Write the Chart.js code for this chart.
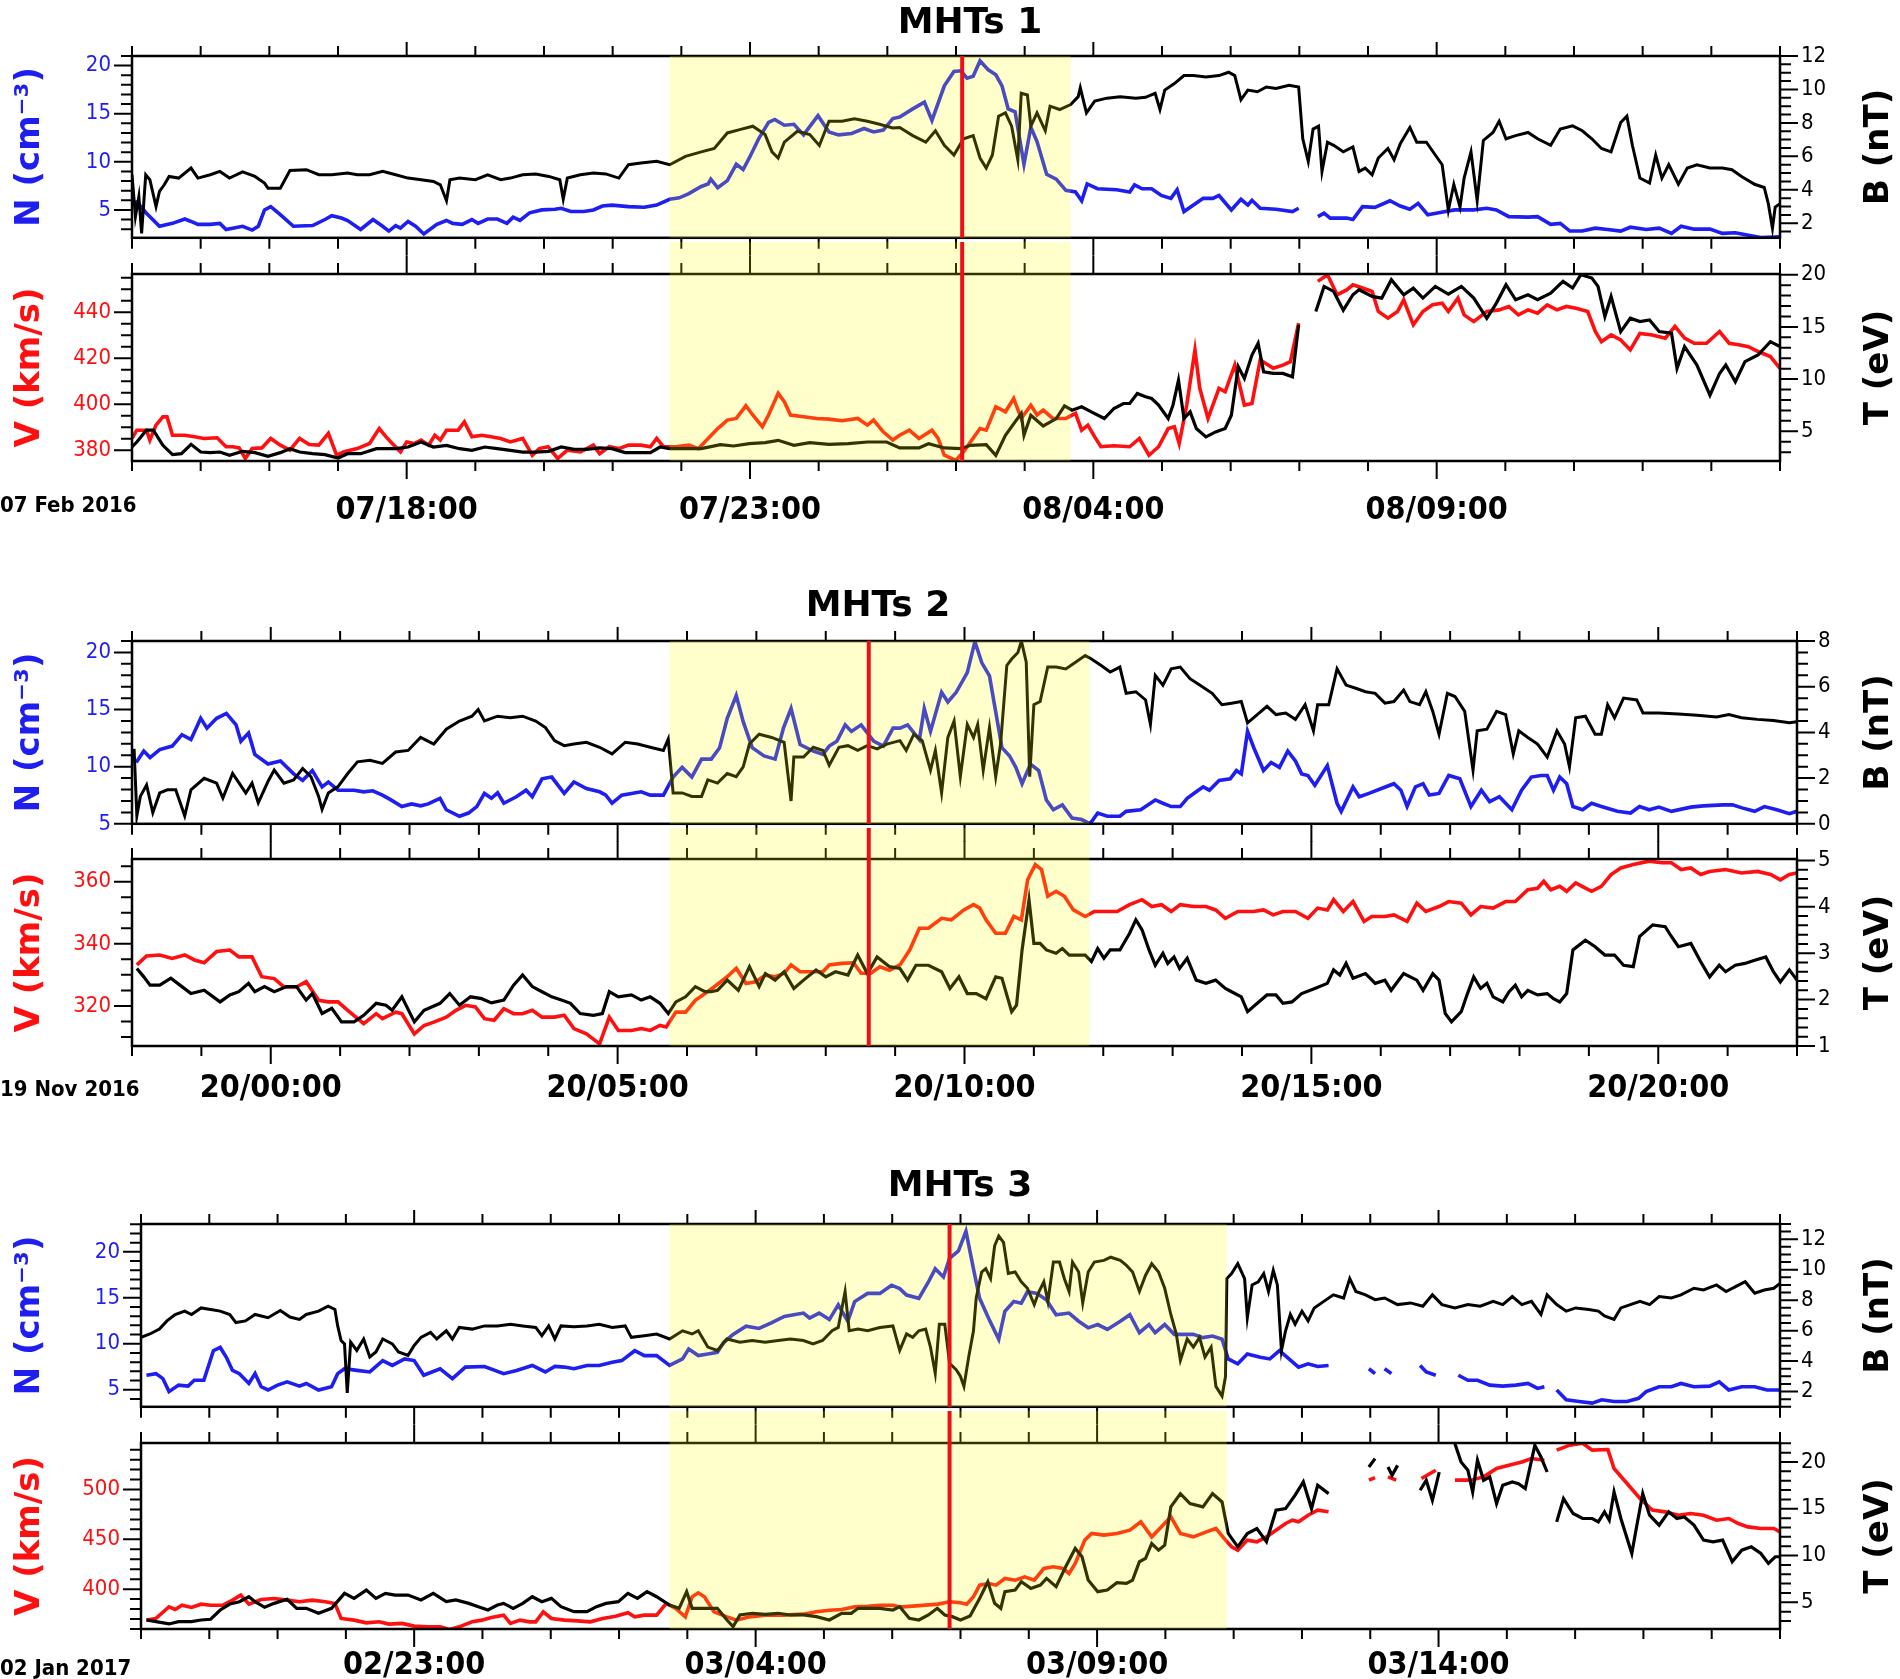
<!DOCTYPE html>
<html>
<head>
<meta charset="utf-8">
<script src="https://cdn.jsdelivr.net/npm/chart.js@4.4.0/dist/chart.umd.min.js"></script>
<style>
  body { margin: 0; background: #fff; width: 1900px; height: 1679px; position: relative; overflow: hidden; }
  canvas { position: absolute; left: 0; }
</style>
</head>
<body>
<canvas id="p1a"></canvas>
<canvas id="p1b"></canvas>
<canvas id="p2a"></canvas>
<canvas id="p2b"></canvas>
<canvas id="p3a"></canvas>
<canvas id="p3b"></canvas>
<script>
// ---- data: time in hours from the left edge of each panel, value ----

// MHTs 1 (07 Feb 2016 14:00 -> 08 Feb 14:00)
const p1N = [[0,5.68],[0.07,5.85],[0.21,4.66],[0.4,3.3],[0.59,3.6],[0.77,4.05],[0.86,3.8],[0.96,3.5],[1.14,3.5],[1.28,3.6],[1.37,2.97],[1.61,3.3],[1.75,2.9],[1.84,3.3],[1.93,5.0],[2.02,5.34],[2.16,4.5],[2.35,3.3],[2.63,3.37],[2.81,4.0],[2.91,4.4],[3.05,4.15],[3.14,3.9],[3.33,2.97],[3.51,4.0],[3.65,3.3],[3.74,2.8],[3.84,3.37],[3.91,3.1],[4.02,3.8],[4.13,3.3],[4.25,2.5],[4.44,3.5],[4.58,3.9],[4.67,3.6],[4.81,3.5],[4.95,4.0],[5.04,3.6],[5.18,4.05],[5.32,4.05],[5.46,3.6],[5.55,4.25],[5.65,3.9],[5.79,4.7],[5.97,5.0],[6.16,5.07],[6.25,5.17],[6.39,4.83],[6.58,4.83],[6.72,5.0],[6.85,5.4],[6.99,5.5],[7.23,5.34],[7.46,5.27],[7.64,5.5],[7.83,6.1],[7.97,6.25],[8.11,6.7],[8.29,7.44],[8.39,7.7],[8.43,8.2],[8.53,7.3],[8.67,8.05],[8.8,9.74],[8.9,9.2],[8.99,10.4],[9.13,12.45],[9.27,14.1],[9.36,14.4],[9.5,13.8],[9.64,13.9],[9.78,12.8],[9.99,14.8],[10.15,13.1],[10.29,12.8],[10.48,12.95],[10.66,13.46],[10.8,13.1],[10.94,13.3],[11.08,14.5],[11.18,14.65],[11.37,15.5],[11.54,16.2],[11.65,14.3],[11.83,17.9],[11.97,19.4],[12.07,19.46],[12.16,18.7],[12.25,18.9],[12.35,20.5],[12.47,19.56],[12.58,19.05],[12.67,17.9],[12.76,15.5],[12.86,15.2],[12.99,9.74],[13.09,13.6],[13.18,12.1],[13.32,8.7],[13.46,8.2],[13.6,7.03],[13.74,6.86],[13.83,5.95],[13.91,7.7],[14.06,7.2],[14.34,7.1],[14.53,6.86],[14.6,7.6],[14.71,7.2],[14.85,7.2],[14.99,6.5],[15.13,6.2],[15.22,7.1],[15.32,4.83],[15.6,6.2],[15.74,6.2],[15.83,6.5],[16.01,5.0],[16.15,6.1],[16.25,5.5],[16.31,6.0],[16.43,5.17],[16.66,5.07],[16.9,4.83],[16.99,5.17],[17.1,null],[17.27,4.3],[17.36,4.66],[17.45,4.15],[17.69,4.15],[17.78,4.0],[17.92,5.34],[18.1,5.27],[18.32,5.95],[18.47,5.4],[18.61,5.07],[18.73,5.68],[18.87,4.5],[19.03,4.7],[19.26,5.0],[19.54,5.0],[19.73,5.17],[19.87,5.0],[20.05,4.3],[20.33,4.25],[20.47,4.3],[20.66,3.5],[20.8,3.6],[20.94,2.8],[21.12,2.8],[21.31,3.1],[21.49,2.97],[21.68,2.8],[21.82,3.2],[22.05,2.97],[22.24,3.1],[22.42,2.56],[22.56,3.3],[22.75,3.0],[22.98,3.0],[23.16,2.56],[23.35,2.63],[23.54,2.36],[23.72,2.12],[24,2.2]];
const p1B = [[0,4.9],[0.05,2.4],[0.1,3.6],[0.14,1.4],[0.2,4.9],[0.26,4.6],[0.35,3.0],[0.4,3.9],[0.47,4.3],[0.54,4.8],[0.68,4.7],[0.86,5.3],[0.96,4.7],[1.14,4.9],[1.28,5.1],[1.42,4.7],[1.61,5.07],[1.79,4.8],[1.93,4.4],[1.98,4.1],[2.16,4.1],[2.3,5.15],[2.54,5.2],[2.72,4.9],[2.91,4.9],[3.14,5.0],[3.28,4.9],[3.46,4.9],[3.65,5.1],[3.84,4.9],[4.02,4.7],[4.21,4.6],[4.39,4.5],[4.49,4.3],[4.58,3.35],[4.63,4.6],[4.77,4.7],[5.0,4.6],[5.18,4.9],[5.37,4.6],[5.51,4.7],[5.69,4.9],[5.88,4.95],[6.07,4.8],[6.23,4.6],[6.28,3.45],[6.34,4.7],[6.53,4.9],[6.72,5.0],[6.9,4.95],[7.09,4.7],[7.23,5.5],[7.41,5.6],[7.64,5.7],[7.83,5.5],[8.06,6.0],[8.29,6.27],[8.48,6.47],[8.67,7.4],[8.85,7.6],[9.04,7.8],[9.22,7.3],[9.32,6.27],[9.41,5.9],[9.5,6.85],[9.69,7.5],[9.87,7.3],[10.01,6.65],[10.15,8.1],[10.34,8.1],[10.52,8.25],[10.71,8.1],[10.9,7.9],[11.08,7.7],[11.18,7.73],[11.37,7.24],[11.56,6.85],[11.7,7.53],[11.83,6.66],[11.97,6.08],[12.11,7.05],[12.25,7.24],[12.35,5.9],[12.44,5.3],[12.53,6.08],[12.62,8.4],[12.72,8.6],[12.81,7.8],[12.9,5.8],[12.95,9.77],[13.04,9.67],[13.09,7.8],[13.18,8.6],[13.3,7.53],[13.37,9.0],[13.51,8.8],[13.67,9.1],[13.78,9.57],[13.81,10.1],[13.9,8.6],[14.02,9.3],[14.2,9.48],[14.39,9.57],[14.62,9.48],[14.76,9.53],[14.9,9.77],[14.97,8.8],[15.04,9.96],[15.18,10.35],[15.32,10.83],[15.46,10.83],[15.64,10.74],[15.83,10.83],[15.97,11.03],[16.06,10.83],[16.15,9.38],[16.25,9.96],[16.39,9.86],[16.52,10.15],[16.66,10.06],[16.85,10.25],[16.99,10.15],[17.05,7.05],[17.13,5.7],[17.2,7.63],[17.28,7.8],[17.33,5.1],[17.41,6.85],[17.5,6.66],[17.64,6.27],[17.78,6.56],[17.87,5.1],[17.96,5.3],[18.06,4.9],[18.15,5.9],[18.29,6.47],[18.38,5.8],[18.47,6.76],[18.61,7.73],[18.71,6.85],[18.85,6.85],[18.98,6.08],[19.08,5.5],[19.17,2.78],[19.25,4.33],[19.34,2.97],[19.4,4.7],[19.5,6.27],[19.59,3.36],[19.68,6.95],[19.82,7.43],[19.91,8.1],[20.01,7.05],[20.15,7.24],[20.33,7.43],[20.47,7.05],[20.66,6.66],[20.8,7.63],[20.98,7.82],[21.12,7.53],[21.26,7.05],[21.4,6.47],[21.54,6.27],[21.68,8.02],[21.77,8.4],[21.85,6.66],[21.96,4.7],[22.1,4.4],[22.19,6.08],[22.28,4.7],[22.38,5.5],[22.52,4.33],[22.65,5.3],[22.79,5.5],[22.98,5.3],[23.16,5.3],[23.3,5.2],[23.44,4.8],[23.63,4.33],[23.77,4.14],[23.83,3.17],[23.89,1.7],[23.93,2.97],[24,3.17]];
const p1V = [[0,385.1],[0.07,388.7],[0.21,388.7],[0.26,384.4],[0.35,390.9],[0.45,394.5],[0.51,394.5],[0.59,386.5],[0.77,386.5],[0.91,385.8],[1.05,385.1],[1.24,385.4],[1.37,381.5],[1.47,381.5],[1.56,381],[1.65,376.4],[1.75,380.7],[1.89,381],[2.02,385.1],[2.16,382.2],[2.3,380],[2.44,385.1],[2.58,382.5],[2.72,382.2],[2.86,387.3],[2.98,377.8],[3.09,379.3],[3.28,380.7],[3.46,382.9],[3.6,389.4],[3.7,385.8],[3.79,382.9],[3.91,379.3],[4.0,383.6],[4.11,382.9],[4.21,384.4],[4.32,382.2],[4.41,386.5],[4.49,384.4],[4.58,388.7],[4.75,388.7],[4.84,392.3],[4.95,385.8],[5.09,386.5],[5.23,385.8],[5.37,385.1],[5.51,383.6],[5.69,385.1],[5.83,377.8],[5.93,380.7],[6.06,381.5],[6.2,376.4],[6.34,380],[6.53,379.3],[6.72,382.2],[6.81,378.5],[6.95,381.5],[7.09,380.7],[7.23,382.2],[7.41,382.2],[7.55,381.5],[7.64,385.1],[7.74,381.5],[7.92,381.5],[8.11,382.2],[8.25,380.7],[8.39,385.1],[8.53,389.4],[8.67,393.1],[8.8,393.8],[8.94,399.3],[9.04,395.3],[9.18,390.2],[9.27,395.3],[9.41,404.7],[9.5,401.1],[9.59,395.3],[9.78,394.5],[9.97,393.8],[10.15,393.5],[10.34,392.8],[10.57,393.8],[10.71,390.9],[10.8,393.1],[10.94,388],[11.08,384.4],[11.18,386.5],[11.32,388.7],[11.46,385.1],[11.65,388.7],[11.74,385.1],[11.83,377.8],[12.0,375.6],[12.11,379.3],[12.21,383.6],[12.35,389.4],[12.44,388.7],[12.58,398.9],[12.72,396.7],[12.84,402.5],[12.95,393.8],[13.09,399.6],[13.18,395.3],[13.27,397.4],[13.41,393.8],[13.6,393.8],[13.74,396],[13.83,388.7],[13.92,390.9],[14.02,385.8],[14.11,381.5],[14.3,381.9],[14.53,381.5],[14.67,385.1],[14.81,377.8],[14.95,381.5],[15.09,389.4],[15.18,390.2],[15.25,382.9],[15.36,399.6],[15.48,423.6],[15.55,406.9],[15.67,393.8],[15.83,406.9],[15.92,405.4],[16.06,417],[16.2,399.6],[16.31,400.3],[16.43,419.2],[16.62,415.6],[16.76,417],[16.87,418.5],[16.99,435.2],[17.1,null],[17.27,453.4],[17.41,456.3],[17.55,447.6],[17.69,449.7],[17.78,451.9],[17.92,450.5],[18.06,449],[18.15,440.3],[18.29,437.4],[18.43,440.3],[18.52,445.4],[18.66,434.5],[18.8,440.3],[18.94,443.2],[19.08,443.9],[19.17,440.3],[19.31,446.1],[19.4,438.8],[19.54,435.9],[19.73,440.3],[19.91,441],[20.05,442.5],[20.19,438.8],[20.33,441],[20.47,439.6],[20.61,443.2],[20.75,441],[20.89,442.5],[21.03,441.7],[21.2,440.3],[21.31,431.6],[21.4,427.2],[21.54,430.1],[21.68,427.9],[21.82,423.6],[21.96,430.8],[22.14,430.1],[22.33,428.7],[22.47,433.8],[22.61,428.7],[22.75,426.5],[22.93,426.5],[23.12,431.6],[23.26,426.5],[23.4,425.8],[23.54,425],[23.68,422.9],[23.86,420.7],[24,415.6]];
const p1T = [[0,3.49],[0.07,3.97],[0.21,5.1],[0.31,5.1],[0.45,3.65],[0.59,2.76],[0.72,2.85],[0.86,3.75],[1.0,3.01],[1.14,2.95],[1.28,3.01],[1.42,2.69],[1.61,3.08],[1.79,2.95],[1.98,2.6],[2.16,2.95],[2.3,3.33],[2.44,3.01],[2.63,2.85],[2.81,2.76],[3.0,2.44],[3.14,2.85],[3.33,2.85],[3.56,3.33],[3.84,3.33],[4.02,3.49],[4.21,3.97],[4.39,3.49],[4.58,3.65],[4.77,3.33],[4.95,3.17],[5.14,3.49],[5.32,3.33],[5.51,3.17],[5.69,3.01],[5.88,3.01],[6.07,3.08],[6.25,3.49],[6.44,3.27],[6.62,3.27],[6.81,3.4],[6.99,3.33],[7.18,2.95],[7.37,2.95],[7.55,2.95],[7.69,3.49],[7.83,3.33],[8.02,3.33],[8.29,3.33],[8.57,3.72],[8.76,3.59],[8.99,3.81],[9.22,3.91],[9.41,4.13],[9.64,3.65],[9.87,3.91],[10.15,3.75],[10.43,3.81],[10.71,3.97],[10.99,3.97],[11.18,3.4],[11.46,3.4],[11.6,3.81],[11.83,3.4],[12.07,3.33],[12.21,3.65],[12.44,3.72],[12.58,2.69],[12.72,4.62],[12.86,5.9],[12.95,6.7],[12.99,4.62],[13.09,6.54],[13.27,5.51],[13.46,6.22],[13.58,7.44],[13.69,7.02],[13.83,7.34],[13.97,6.86],[14.16,6.22],[14.3,7.18],[14.44,7.66],[14.53,7.66],[14.64,8.62],[14.76,8.3],[14.85,8.14],[14.95,7.5],[15.09,6.22],[15.16,7.5],[15.24,9.9],[15.32,6.22],[15.41,6.86],[15.5,5.26],[15.64,4.46],[15.78,4.94],[15.92,5.26],[16.01,6.54],[16.11,11.19],[16.2,10.06],[16.31,12.3],[16.4,13.43],[16.48,10.7],[16.62,10.54],[16.76,10.54],[16.9,10.22],[16.99,15.19],[17.1,null],[17.24,16.47],[17.36,18.88],[17.5,18.4],[17.64,16.6],[17.78,18.08],[17.87,18.56],[18.06,17.92],[18.2,17.76],[18.34,19.52],[18.52,18.08],[18.66,18.72],[18.8,17.76],[18.98,18.88],[19.17,18.14],[19.36,18.88],[19.54,17.76],[19.73,15.83],[19.87,17.28],[20.01,19.04],[20.15,17.6],[20.33,18.08],[20.47,17.6],[20.66,18.24],[20.84,19.36],[20.98,18.72],[21.1,20.0],[21.26,19.68],[21.35,18.88],[21.45,15.99],[21.54,17.92],[21.68,14.55],[21.82,15.83],[21.96,15.51],[22.1,15.67],[22.24,14.55],[22.42,14.39],[22.5,11.03],[22.61,13.11],[22.79,11.35],[22.98,8.46],[23.12,10.54],[23.21,11.35],[23.35,9.74],[23.49,11.67],[23.68,12.31],[23.86,13.59],[24,13.11]];

// MHTs 2 (19 Nov 2016 22:00 -> 20 Nov 22:00)
const p2N = [[0.06,10.37],[0.17,11.37],[0.26,10.8],[0.4,11.5],[0.58,11.8],[0.72,12.8],[0.85,12.37],[0.99,14.23],[1.08,13.37],[1.22,14.23],[1.36,14.66],[1.5,13.66],[1.57,12.23],[1.68,12.94],[1.77,11.08],[1.96,10.23],[2.14,10.5],[2.33,9.37],[2.46,8.8],[2.6,9.66],[2.74,8.23],[2.83,8.66],[2.97,7.94],[3.2,7.94],[3.34,7.8],[3.47,7.89],[3.61,7.51],[3.72,7.14],[3.89,6.51],[4.03,6.74],[4.16,6.57],[4.27,6.74],[4.44,7.23],[4.53,6.23],[4.72,5.66],[4.85,5.94],[4.97,6.51],[5.08,7.66],[5.18,7.23],[5.27,7.71],[5.36,6.8],[5.54,7.37],[5.68,7.94],[5.77,7.37],[5.91,8.94],[6.05,9.09],[6.23,7.66],[6.37,8.66],[6.55,8.09],[6.74,7.8],[6.83,7.51],[6.92,6.8],[7.06,7.51],[7.2,7.66],[7.34,7.8],[7.47,7.51],[7.66,7.51],[7.8,9.09],[7.93,9.94],[8.07,9.09],[8.21,10.66],[8.35,10.66],[8.47,11.66],[8.58,14.23],[8.71,16.23],[8.81,13.94],[8.94,11.66],[9.11,10.94],[9.27,10.66],[9.39,13.37],[9.5,15.09],[9.63,11.94],[9.82,11.37],[9.96,11.08],[10.05,11.8],[10.16,12.23],[10.28,13.66],[10.37,13.09],[10.51,13.66],[10.69,12.23],[10.83,11.8],[10.97,13.37],[11.07,13.37],[11.18,13.66],[11.35,12.37],[11.42,15.09],[11.51,13.09],[11.67,16.51],[11.76,15.66],[11.88,16.51],[12.04,18.23],[12.15,20.94],[12.25,19.09],[12.36,17.94],[12.45,14.8],[12.54,11.66],[12.65,10.94],[12.74,9.94],[12.83,8.51],[12.95,10.23],[13.07,9.66],[13.18,7.09],[13.28,6.23],[13.41,6.66],[13.55,5.51],[13.69,5.37],[13.81,5.0],[13.92,5.94],[14.06,5.66],[14.24,5.66],[14.33,6.09],[14.54,6.23],[14.75,7.09],[14.86,6.8],[14.98,6.51],[15.11,6.51],[15.21,7.23],[15.34,7.8],[15.44,8.23],[15.53,7.94],[15.67,8.8],[15.83,8.94],[15.92,9.66],[15.99,9.37],[16.08,13.09],[16.17,11.66],[16.31,9.66],[16.42,10.37],[16.54,9.94],[16.66,11.37],[16.77,10.51],[16.86,9.37],[16.95,9.23],[17.05,8.37],[17.23,10.09],[17.37,6.8],[17.43,6.09],[17.6,8.23],[17.69,7.37],[17.83,7.66],[18.01,8.09],[18.19,8.51],[18.29,7.94],[18.38,6.51],[18.5,8.23],[18.61,8.51],[18.7,7.51],[18.84,7.66],[18.98,9.23],[19.14,8.94],[19.3,6.51],[19.45,7.94],[19.57,6.94],[19.71,7.37],[19.89,6.23],[20.03,7.94],[20.17,9.09],[20.31,9.23],[20.4,9.23],[20.49,7.94],[20.58,9.09],[20.68,8.51],[20.77,6.51],[20.91,6.23],[21.04,6.8],[21.18,6.51],[21.41,6.09],[21.6,5.94],[21.73,6.51],[21.87,6.23],[22.01,6.46],[22.19,6.09],[22.47,6.46],[22.65,6.57],[22.93,6.66],[23.07,6.66],[23.22,6.37],[23.39,6.09],[23.53,6.51],[23.71,6.23],[23.89,5.89],[24,6.09]];
const p2B = [[0.03,3.28],[0.07,0.35],[0.12,1.2],[0.21,1.7],[0.3,0.49],[0.4,1.35],[0.51,1.49],[0.63,1.49],[0.76,0.35],[0.85,1.49],[1.04,1.99],[1.22,1.78],[1.31,1.13],[1.45,2.2],[1.64,1.35],[1.73,1.78],[1.82,0.92],[1.96,1.85],[2.05,2.35],[2.19,1.78],[2.33,1.92],[2.46,2.42],[2.58,2.06],[2.69,1.2],[2.74,0.63],[2.83,1.35],[2.97,1.63],[3.11,2.2],[3.25,2.71],[3.43,2.78],[3.61,2.64],[3.8,3.14],[3.98,3.21],[4.16,3.78],[4.35,3.49],[4.53,4.14],[4.72,4.5],[4.9,4.71],[4.99,5.0],[5.08,4.5],[5.27,4.71],[5.45,4.64],[5.63,4.71],[5.82,4.5],[5.96,4.21],[6.09,3.64],[6.23,3.42],[6.37,3.49],[6.55,3.57],[6.74,3.35],[6.92,3.06],[7.11,3.57],[7.29,3.49],[7.47,3.35],[7.66,3.21],[7.73,3.71],[7.8,1.35],[7.93,1.35],[8.07,1.2],[8.21,1.2],[8.3,1.92],[8.44,1.78],[8.58,2.2],[8.71,2.06],[8.81,2.49],[8.9,3.49],[9.04,3.92],[9.22,3.78],[9.4,3.57],[9.5,1.0],[9.54,2.92],[9.68,2.92],[9.82,3.35],[9.96,3.21],[10.05,2.56],[10.19,3.35],[10.32,3.42],[10.46,3.21],[10.6,3.42],[10.74,3.28],[10.88,3.49],[11.07,3.64],[11.16,3.21],[11.27,3.92],[11.39,3.64],[11.51,2.35],[11.58,3.21],[11.67,1.35],[11.76,3.78],[11.85,4.5],[11.94,2.06],[12.04,4.35],[12.13,3.78],[12.19,4.35],[12.27,2.35],[12.36,4.21],[12.45,2.06],[12.52,3.49],[12.61,6.93],[12.68,7.21],[12.77,7.5],[12.82,8.0],[12.89,7.07],[12.94,2.06],[13.0,5.21],[13.09,5.35],[13.2,6.86],[13.32,6.86],[13.46,6.78],[13.6,7.07],[13.74,7.36],[13.83,7.21],[13.97,6.93],[14.1,6.64],[14.24,6.86],[14.33,5.71],[14.47,5.78],[14.61,5.42],[14.68,4.35],[14.75,6.5],[14.86,6.07],[14.98,6.78],[15.11,6.86],[15.25,6.35],[15.39,6.07],[15.57,5.71],[15.71,5.21],[15.85,5.28],[15.99,5.35],[16.08,4.42],[16.22,4.78],[16.36,5.14],[16.49,4.78],[16.63,4.85],[16.77,4.57],[16.91,5.21],[17.03,4.07],[17.09,5.21],[17.25,5.21],[17.37,6.78],[17.5,6.07],[17.64,5.93],[17.78,5.78],[17.92,5.71],[18.06,5.28],[18.19,5.35],[18.33,5.85],[18.42,5.35],[18.56,5.21],[18.65,5.78],[18.75,4.92],[18.84,3.92],[18.96,5.71],[19.07,5.57],[19.21,4.92],[19.33,2.35],[19.39,4.07],[19.53,4.14],[19.67,4.92],[19.8,4.78],[19.91,3.06],[19.99,4.07],[20.12,3.78],[20.26,3.49],[20.4,2.92],[20.54,4.07],[20.65,3.49],[20.72,2.49],[20.81,4.64],[20.95,4.71],[21.09,3.92],[21.18,3.92],[21.27,5.21],[21.37,4.64],[21.5,5.5],[21.69,5.42],[21.78,4.85],[22.01,4.85],[22.29,4.81],[22.56,4.75],[22.84,4.67],[23.02,4.78],[23.2,4.64],[23.43,4.57],[23.66,4.52],[23.89,4.42],[24,4.47]];
const p2V = [[0.07,333.2],[0.21,336.1],[0.4,336.4],[0.58,335.3],[0.76,336.4],[0.9,334.8],[1.04,333.9],[1.22,337.5],[1.41,338],[1.54,335.8],[1.73,335.8],[1.87,329.4],[2.05,328.8],[2.19,326.1],[2.37,326.1],[2.51,327.8],[2.69,321.8],[2.83,321.3],[2.97,321.3],[3.11,318.6],[3.34,314.3],[3.52,317.5],[3.61,315.9],[3.8,318],[3.89,317.5],[4.07,311],[4.21,313.7],[4.35,314.8],[4.53,316.4],[4.67,318.6],[4.81,320.2],[4.95,319.7],[5.08,315.9],[5.22,315.4],[5.36,319.1],[5.5,317.5],[5.63,317.5],[5.77,318.6],[5.91,316.4],[6.09,316.4],[6.23,317],[6.37,312.7],[6.55,311],[6.74,307.8],[6.88,316.4],[7.01,312.1],[7.2,312.1],[7.34,312.7],[7.47,312.1],[7.61,313.7],[7.7,313.2],[7.84,318],[7.98,318],[8.12,321.8],[8.26,324],[8.39,326.1],[8.58,329.4],[8.71,332.1],[8.85,327.2],[8.99,327.8],[9.13,329.9],[9.27,329.4],[9.4,330.5],[9.5,333.2],[9.63,331],[9.77,331],[9.96,331],[10.05,333.2],[10.23,333.7],[10.4,333.9],[10.51,330.5],[10.65,330.5],[10.78,332.6],[10.92,331.5],[11.07,333.2],[11.21,338],[11.35,345],[11.48,345],[11.67,348.2],[11.81,347.7],[11.99,350.9],[12.13,352.6],[12.22,351.5],[12.31,347.7],[12.45,343.4],[12.59,343.4],[12.71,348.8],[12.82,347.7],[12.91,360.6],[13.02,365.5],[13.11,363.9],[13.2,355.3],[13.32,356.9],[13.44,355.3],[13.57,350.9],[13.74,348.8],[13.87,350.4],[14.01,350.4],[14.2,350.4],[14.38,352.6],[14.56,354.2],[14.7,352],[14.84,352.6],[14.98,350.4],[15.11,352.6],[15.3,352],[15.48,352],[15.62,350.9],[15.76,348.2],[15.94,350.4],[16.17,350.4],[16.31,350.9],[16.45,349.3],[16.59,350.4],[16.77,350.4],[16.95,348.2],[17.09,351.5],[17.23,350.9],[17.32,354.2],[17.46,350.4],[17.6,353.6],[17.76,347.2],[17.87,348.8],[18.06,348.8],[18.19,349.3],[18.38,347.2],[18.52,353.1],[18.65,350.4],[18.84,352],[18.98,353.6],[19.16,353.1],[19.3,349.3],[19.44,352],[19.62,351.5],[19.8,353.6],[19.94,353.6],[20.12,357.4],[20.26,357.9],[20.35,360.1],[20.45,357.4],[20.58,358.5],[20.68,356.9],[20.81,359.6],[20.95,357.9],[21.04,356.9],[21.18,358.5],[21.32,362.3],[21.46,364.4],[21.64,365.5],[21.87,366.6],[22.05,366.1],[22.19,366.1],[22.33,363.9],[22.47,364.4],[22.61,362.3],[22.74,363.3],[22.97,363.9],[23.2,362.8],[23.43,363.3],[23.62,362.3],[23.76,360.6],[23.89,362.3],[24,362.8]];
const p2T = [[0.07,2.67],[0.17,2.49],[0.26,2.31],[0.4,2.31],[0.56,2.46],[0.72,2.28],[0.85,2.13],[1.04,2.2],[1.27,1.95],[1.41,2.1],[1.54,2.17],[1.68,2.35],[1.77,2.17],[1.91,2.28],[2.05,2.17],[2.23,2.28],[2.37,2.28],[2.51,1.99],[2.6,2.13],[2.74,1.7],[2.88,1.81],[3.02,1.52],[3.2,1.52],[3.34,1.66],[3.52,1.92],[3.66,1.88],[3.75,1.77],[3.89,2.06],[4.07,1.52],[4.21,1.77],[4.44,1.92],[4.58,2.13],[4.72,1.88],[4.88,2.06],[5.04,2.02],[5.18,1.93],[5.36,1.99],[5.5,2.31],[5.63,2.53],[5.77,2.28],[5.91,2.17],[6.05,2.06],[6.19,1.99],[6.32,1.92],[6.46,1.7],[6.65,1.66],[6.78,1.7],[6.88,2.17],[7.01,2.06],[7.2,2.1],[7.34,1.99],[7.47,2.06],[7.61,1.92],[7.73,1.7],[7.84,1.95],[7.98,2.06],[8.12,2.28],[8.26,2.17],[8.35,2.17],[8.44,2.2],[8.58,2.42],[8.74,2.2],[8.9,2.71],[9.04,2.28],[9.13,2.56],[9.27,2.42],[9.4,2.6],[9.54,2.24],[9.68,2.42],[9.86,2.64],[10.0,2.49],[10.14,2.6],[10.32,2.53],[10.46,2.96],[10.6,2.56],[10.74,2.92],[10.92,2.71],[11.07,2.67],[11.18,2.42],[11.3,2.74],[11.48,2.74],[11.67,2.6],[11.79,2.24],[11.92,2.49],[12.04,2.13],[12.17,2.13],[12.31,2.02],[12.45,2.49],[12.54,2.46],[12.68,1.74],[12.75,1.88],[12.83,3.07],[12.93,4.15],[13.0,3.21],[13.09,3.21],[13.18,3.07],[13.32,3.0],[13.41,3.1],[13.51,2.96],[13.74,2.96],[13.83,2.82],[13.92,3.1],[14.01,2.89],[14.1,3.07],[14.24,3.07],[14.38,3.43],[14.47,3.72],[14.56,3.5],[14.66,3.07],[14.75,2.74],[14.86,3.0],[14.93,2.78],[15.02,2.92],[15.1,2.67],[15.21,2.89],[15.34,2.42],[15.48,2.35],[15.62,2.42],[15.76,2.24],[15.85,2.17],[15.99,2.06],[16.08,1.74],[16.22,1.92],[16.36,2.1],[16.49,2.1],[16.59,1.92],[16.72,1.95],[16.86,2.13],[17.05,2.24],[17.23,2.35],[17.32,2.64],[17.41,2.53],[17.5,2.78],[17.6,2.46],[17.78,2.56],[17.92,2.35],[18.06,2.42],[18.15,2.2],[18.33,2.56],[18.52,2.42],[18.61,2.2],[18.75,2.56],[18.84,2.42],[18.93,1.7],[19.02,1.52],[19.16,1.74],[19.25,2.13],[19.34,2.49],[19.44,2.24],[19.53,2.35],[19.62,2.06],[19.76,1.95],[19.85,2.17],[19.94,2.31],[20.03,2.06],[20.12,2.2],[20.26,2.1],[20.4,2.13],[20.49,2.02],[20.58,1.95],[20.68,2.13],[20.77,3.07],[20.95,3.28],[21.09,3.14],[21.23,2.96],[21.37,2.96],[21.5,2.74],[21.64,2.71],[21.73,3.36],[21.92,3.61],[22.1,3.57],[22.19,3.36],[22.29,3.14],[22.47,3.21],[22.61,2.82],[22.74,2.49],[22.88,2.74],[22.97,2.6],[23.11,2.74],[23.25,2.78],[23.39,2.85],[23.55,2.92],[23.66,2.6],[23.76,2.38],[23.89,2.64],[24,2.42]];

// MHTs 3 (02 Jan 2017 19:00 -> 03 Jan 19:00)
const p3N = [[0.08,6.57],[0.22,6.75],[0.32,6.21],[0.41,4.79],[0.55,5.5],[0.69,5.39],[0.78,6.03],[0.92,6.03],[1.06,9.24],[1.16,9.6],[1.25,8.53],[1.34,7.1],[1.44,6.75],[1.58,5.68],[1.67,6.75],[1.76,5.32],[1.86,4.97],[2.0,5.5],[2.14,5.86],[2.32,5.39],[2.42,5.68],[2.6,4.97],[2.79,5.32],[2.88,6.75],[2.98,7.28],[3.16,7.1],[3.35,6.93],[3.54,8.17],[3.68,7.64],[3.86,8.35],[4.0,8.17],[4.14,6.57],[4.38,7.28],[4.56,6.21],[4.75,7.46],[5.03,7.53],[5.31,6.75],[5.5,7.1],[5.73,7.64],[5.92,6.93],[6.06,7.53],[6.2,7.46],[6.34,7.28],[6.53,7.64],[6.71,7.64],[6.9,7.99],[7.04,8.17],[7.23,9.24],[7.37,8.71],[7.55,8.71],[7.74,7.64],[7.93,8.35],[8.02,9.42],[8.16,8.71],[8.3,8.88],[8.44,9.06],[8.53,10.13],[8.67,11.02],[8.86,11.91],[9.05,11.66],[9.23,12.27],[9.42,12.98],[9.56,13.16],[9.7,13.34],[9.79,12.8],[9.93,13.34],[10.08,12.63],[10.21,14.23],[10.35,12.45],[10.45,14.59],[10.64,15.48],[10.82,15.48],[10.99,16.37],[11.11,16.0],[11.21,15.3],[11.39,14.94],[11.53,16.72],[11.63,18.15],[11.75,17.26],[11.84,19.29],[11.97,20.1],[12.08,22.24],[12.19,18.15],[12.28,14.94],[12.42,12.63],[12.56,10.49],[12.65,13.52],[12.78,14.59],[12.89,14.41],[12.98,15.65],[13.12,15.48],[13.26,14.76],[13.4,13.16],[13.59,13.34],[13.73,12.45],[13.87,11.73],[14.01,12.09],[14.15,11.56],[14.34,12.45],[14.48,13.16],[14.62,11.2],[14.76,12.09],[14.85,11.2],[14.99,12.09],[15.13,11.02],[15.41,11.02],[15.55,10.67],[15.69,10.84],[15.83,10.49],[15.92,8.35],[16.06,7.82],[16.2,8.88],[16.39,8.53],[16.53,8.35],[16.67,9.24],[16.81,8.35],[16.95,7.46],[17.09,7.82],[17.23,7.53],[17.39,7.64],[17.6,null],[17.98,7.28],[18.07,6.75],[18.15,null],[18.21,7.28],[18.31,6.75],[18.5,null],[18.73,7.64],[18.82,6.93],[18.96,6.57],[19.1,null],[19.29,6.57],[19.43,6.03],[19.57,6.03],[19.75,5.5],[19.94,5.39],[20.13,5.5],[20.31,5.68],[20.45,5.14],[20.55,5.32],[20.65,null],[20.73,4.97],[20.87,3.9],[21.06,3.72],[21.25,3.54],[21.39,3.9],[21.57,3.72],[21.76,3.72],[21.93,4.07],[22.04,4.79],[22.23,5.32],[22.41,5.32],[22.55,5.68],[22.74,5.32],[22.97,5.39],[23.11,5.86],[23.25,4.97],[23.44,5.32],[23.63,5.32],[23.81,4.97],[24,4.97]];
const p3B = [[0,5.56],[0.13,5.78],[0.27,6.1],[0.38,6.64],[0.5,7.06],[0.64,7.28],[0.74,7.06],[0.88,7.49],[1.02,7.39],[1.16,7.28],[1.3,7.06],[1.39,6.53],[1.53,6.64],[1.67,7.06],[1.86,6.85],[2.04,7.32],[2.18,6.89],[2.32,6.74],[2.42,7.06],[2.6,7.28],[2.74,7.6],[2.84,7.39],[2.88,6.31],[2.93,5.35],[2.98,5.13],[3.02,1.91],[3.07,5.24],[3.16,4.7],[3.26,5.45],[3.35,4.27],[3.44,4.6],[3.54,5.45],[3.68,5.13],[3.77,4.6],[3.91,4.38],[4.0,5.03],[4.1,5.56],[4.24,5.88],[4.33,5.45],[4.47,5.99],[4.56,5.45],[4.66,6.21],[4.85,6.1],[5.03,6.31],[5.22,6.31],[5.41,6.42],[5.59,6.31],[5.78,6.21],[5.87,5.67],[5.97,6.31],[6.06,5.45],[6.15,6.31],[6.34,6.25],[6.53,6.31],[6.71,6.42],[6.9,6.21],[7.09,6.31],[7.18,5.56],[7.37,5.67],[7.55,5.78],[7.74,5.45],[7.93,5.99],[8.07,5.78],[8.16,5.99],[8.3,4.92],[8.44,4.7],[8.58,5.45],[8.77,5.24],[8.95,5.35],[9.14,5.24],[9.33,5.35],[9.51,5.45],[9.7,5.35],[9.84,5.13],[9.98,5.35],[10.12,5.99],[10.21,6.21],[10.31,8.57],[10.37,5.99],[10.5,6.1],[10.64,5.99],[10.82,6.21],[11.01,6.31],[11.11,4.7],[11.21,5.78],[11.3,5.56],[11.39,5.99],[11.49,6.1],[11.56,4.92],[11.63,3.2],[11.69,6.42],[11.77,6.42],[11.84,3.85],[11.94,3.42],[12.0,2.99],[12.05,2.34],[12.12,4.27],[12.19,5.99],[12.23,8.14],[12.31,9.85],[12.37,10.07],[12.44,9.42],[12.5,11.57],[12.56,12.21],[12.63,11.79],[12.7,9.75],[12.8,9.85],[12.89,9.21],[12.98,8.78],[13.08,7.71],[13.15,8.57],[13.22,9.21],[13.28,7.92],[13.36,10.5],[13.45,10.5],[13.52,9.42],[13.59,8.57],[13.64,10.5],[13.73,9.85],[13.79,7.82],[13.87,9.85],[13.96,10.5],[14.1,10.61],[14.2,10.82],[14.34,10.61],[14.43,10.28],[14.52,9.85],[14.62,8.57],[14.71,9.64],[14.8,10.39],[14.9,9.85],[14.99,8.78],[15.08,7.06],[15.16,5.78],[15.22,4.06],[15.32,5.45],[15.41,4.92],[15.5,5.56],[15.58,4.27],[15.67,4.92],[15.74,2.34],[15.83,1.7],[15.88,2.99],[15.9,9.42],[15.97,9.75],[16.06,10.39],[16.16,9.42],[16.2,6.85],[16.27,9.0],[16.36,9.21],[16.44,9.75],[16.51,8.57],[16.58,9.96],[16.64,9.0],[16.7,4.7],[16.76,5.99],[16.83,7.06],[16.9,6.42],[17.0,7.28],[17.09,6.64],[17.18,7.49],[17.32,7.92],[17.46,8.35],[17.61,8.14],[17.7,9.42],[17.79,8.57],[17.93,8.35],[18.07,8.03],[18.21,8.14],[18.4,7.71],[18.59,7.82],[18.77,7.6],[18.91,8.35],[19.05,7.71],[19.24,7.49],[19.43,7.71],[19.61,7.6],[19.8,7.92],[19.94,7.71],[20.08,8.24],[20.22,7.71],[20.36,7.92],[20.5,7.06],[20.59,8.35],[20.73,7.71],[20.87,7.28],[21.01,7.49],[21.2,7.39],[21.34,7.28],[21.43,6.96],[21.57,6.74],[21.67,7.49],[21.81,7.71],[21.95,7.92],[22.09,7.71],[22.23,8.24],[22.41,8.14],[22.55,8.35],[22.74,8.78],[22.88,8.67],[23.07,9.0],[23.21,8.57],[23.35,8.89],[23.49,9.21],[23.63,8.46],[23.77,8.67],[23.91,8.78],[24,9.1]];
const p3V = [[0.08,368.9],[0.22,370.6],[0.41,382.3],[0.5,379.6],[0.6,383.9],[0.74,381.6],[0.88,384.9],[1.02,383.9],[1.2,383.9],[1.34,389],[1.46,394],[1.58,384.9],[1.76,389.6],[1.95,390.6],[2.14,389],[2.32,387.3],[2.51,389],[2.7,387.3],[2.84,385.6],[2.93,370.6],[3.12,368.9],[3.3,366.2],[3.49,367.2],[3.63,364.9],[3.82,365.6],[4.0,362.9],[4.19,362.2],[4.38,362.2],[4.52,359.5],[4.66,362.2],[4.85,367.2],[4.99,368.9],[5.13,371.6],[5.31,373.9],[5.41,365.6],[5.55,368.9],[5.69,367.2],[5.78,367.2],[5.89,377.3],[6.01,370.6],[6.2,368.9],[6.39,368.2],[6.58,367.2],[6.76,370.6],[6.95,372.9],[7.13,376.3],[7.23,372.2],[7.37,373.9],[7.55,373.9],[7.69,385.6],[7.83,380.6],[7.97,372.2],[8.07,392.3],[8.16,396.3],[8.25,392.3],[8.39,377.3],[8.58,372.2],[8.72,368.9],[8.91,372.2],[9.14,373.9],[9.42,373.9],[9.7,374.9],[9.89,377.3],[10.08,378.9],[10.26,379.6],[10.45,382.3],[10.64,382.9],[10.82,383.9],[11.01,383.9],[11.11,382],[11.3,383],[11.49,384],[11.67,385],[11.84,387.3],[12.0,386.3],[12.09,384.9],[12.19,392.3],[12.28,404],[12.42,405.7],[12.52,404],[12.65,410.7],[12.8,409],[12.94,412.4],[13.08,409],[13.22,420.7],[13.36,422.4],[13.5,420.7],[13.59,415.7],[13.68,425.8],[13.82,449.2],[13.92,455.9],[14.1,454.2],[14.29,455.9],[14.48,459.2],[14.64,467.6],[14.8,452.5],[14.94,462.5],[15.08,472.6],[15.22,455.9],[15.41,452.5],[15.6,457.5],[15.74,460.9],[15.88,449.2],[15.97,442.5],[16.06,439.1],[16.2,449.2],[16.34,447.5],[16.48,452.5],[16.62,459.2],[16.76,465.9],[16.86,469.2],[16.95,467.6],[17.09,474.2],[17.23,479.3],[17.39,477.6],[17.6,null],[17.98,509.4],[18.07,512],[18.14,null],[18.26,512.7],[18.38,509.4],[18.55,null],[18.75,511],[18.96,519.4],[19.1,null],[19.24,509.4],[19.47,509.4],[19.66,512.7],[19.85,521.1],[20.03,524.4],[20.22,527.7],[20.36,531.1],[20.55,529.4],[20.65,null],[20.73,539.5],[20.92,544.5],[21.11,546.5],[21.25,539.5],[21.48,540.1],[21.57,521.1],[21.76,506],[21.95,491],[22.13,479.3],[22.32,477.6],[22.51,474.2],[22.69,475.9],[22.88,474.2],[23.07,469.2],[23.25,470.9],[23.39,465.9],[23.53,462.5],[23.72,460.9],[23.91,460.9],[24,457.5]];
const p3T = [[0.08,3.11],[0.22,2.94],[0.41,2.69],[0.55,2.94],[0.74,2.94],[0.88,3.11],[1.02,3.19],[1.16,4.18],[1.3,4.82],[1.44,5.07],[1.58,5.6],[1.67,5.07],[1.81,4.47],[1.95,4.89],[2.14,5.32],[2.28,4.36],[2.42,4.36],[2.6,3.83],[2.79,4.36],[2.98,5.96],[3.12,5.42],[3.3,6.31],[3.44,5.42],[3.58,5.96],[3.72,5.78],[3.91,5.78],[4.1,5.25],[4.28,5.96],[4.47,5.07],[4.61,5.25],[4.8,4.89],[4.94,4.54],[5.08,4.18],[5.22,4.71],[5.31,4.89],[5.45,4.36],[5.59,4.89],[5.73,5.6],[5.87,5.07],[6.01,5.42],[6.15,4.54],[6.34,4.0],[6.53,4.0],[6.67,4.54],[6.81,4.89],[6.99,5.07],[7.13,5.96],[7.27,5.42],[7.41,6.14],[7.55,5.6],[7.74,4.71],[7.88,4.36],[7.99,6.14],[8.07,4.36],[8.21,4.36],[8.44,4.36],[8.58,3.11],[8.67,2.4],[8.77,3.65],[8.95,3.83],[9.14,3.72],[9.33,3.83],[9.51,3.65],[9.7,3.65],[9.89,3.47],[10.08,3.11],[10.26,3.83],[10.4,3.83],[10.5,4.36],[10.64,4.36],[10.82,4.36],[11.01,4.18],[11.11,4.54],[11.25,3.29],[11.39,3.11],[11.53,3.65],[11.66,4.36],[11.77,3.65],[11.88,3.47],[12.0,3.11],[12.14,3.54],[12.28,5.42],[12.4,7.2],[12.5,4.89],[12.59,4.36],[12.65,6.14],[12.8,6.31],[12.89,7.2],[13.03,6.49],[13.17,6.85],[13.26,7.56],[13.4,6.67],[13.54,8.8],[13.68,10.76],[13.78,9.87],[13.87,7.38],[14.01,6.14],[14.15,6.31],[14.29,7.1],[14.43,7.03],[14.52,7.38],[14.62,9.34],[14.71,9.69],[14.8,11.29],[14.9,10.58],[14.99,11.11],[15.08,15.2],[15.22,16.62],[15.36,15.56],[15.55,15.2],[15.69,16.62],[15.83,15.73],[15.92,12.36],[16.06,10.93],[16.2,12.36],[16.34,12.89],[16.48,11.47],[16.62,14.85],[16.76,15.02],[16.9,16.45],[17.02,17.87],[17.14,15.02],[17.23,17.51],[17.39,16.62],[17.6,null],[17.98,19.47],[18.07,20.36],[18.15,null],[18.26,19.47],[18.32,18.58],[18.4,19.64],[18.55,null],[18.73,16.98],[18.82,18.04],[18.91,15.91],[19.01,18.93],[19.1,null],[19.24,21.96],[19.33,20.0],[19.43,19.11],[19.5,16.8],[19.57,20.18],[19.66,18.04],[19.75,18.4],[19.85,15.56],[19.94,17.51],[20.08,17.87],[20.17,17.69],[20.27,17.16],[20.41,21.78],[20.5,20.53],[20.59,18.93],[20.65,null],[20.73,13.6],[20.83,16.09],[20.97,14.49],[21.11,13.96],[21.25,13.96],[21.34,13.6],[21.43,14.67],[21.5,13.78],[21.57,16.8],[21.67,13.96],[21.83,10.22],[21.9,13.07],[21.99,16.62],[22.09,14.31],[22.23,13.25],[22.37,14.67],[22.49,13.96],[22.6,14.13],[22.74,13.25],[22.88,11.65],[23.02,11.47],[23.16,11.65],[23.3,9.34],[23.44,10.58],[23.58,10.93],[23.72,10.22],[23.83,9.16],[23.93,9.87],[24,9.87]];

// shaded interval, red marker, labelled time ticks
const p1Band = [7.83, 13.67], p1Mark = 12.09;
const p2Band = [7.75, 13.8],  p2Mark = 10.62;
const p3Band = [7.74, 15.9],  p3Mark = 11.84;
const p1Major = [4, 9, 14, 19],     p1Labels = ['07/18:00', '07/23:00', '08/04:00', '08/09:00'];
const p2Major = [2, 7, 12, 17, 22], p2Labels = ['20/00:00', '20/05:00', '20/10:00', '20/15:00', '20/20:00'];
const p3Major = [4, 9, 14, 19],     p3Labels = ['02/23:00', '03/04:00', '03/09:00', '03/14:00'];

const BLUE = '#1e1ef0', RED = '#ff1010', BLACK = '#000';
const TICKFONT = '"DejaVu Sans Condensed", "DejaVu Sans", sans-serif';

const pts = a => a.map(([x, y]) => ({x, y}));

function yTicks(ctx, sc, x0, dir, step, majors) {
  const n0 = Math.ceil(sc.min / step - 1e-6);
  for (let i = n0; i * step <= sc.max + 1e-6; i++) {
    const v = i * step;
    const py = sc.getPixelForValue(v);
    const len = majors.some(m => Math.abs(m - v) < 1e-6) ? 18 : 11;
    ctx.moveTo(x0, py);
    ctx.lineTo(x0 + dir * len, py);
  }
}

function framePlugin(c) {
  return {
    id: 'frame',
    afterDraw(chart) {
      const ctx = chart.ctx, a = chart.chartArea;
      const xs = chart.scales.x, yl = chart.scales.yl, yr = chart.scales.yr;
      ctx.save();
      ctx.strokeStyle = '#000';
      ctx.lineWidth = 2.5;
      ctx.strokeRect(a.left, a.top, a.right - a.left, a.bottom - a.top);
      ctx.lineWidth = 2;
      ctx.beginPath();
      for (let h = 0; h <= 24; h++) {
        const px = xs.getPixelForValue(h);
        const maj = c.majors.includes(h);
        ctx.moveTo(px, a.top);
        ctx.lineTo(px, a.top - (maj ? c.tick[1] : c.tick[0]));
        ctx.moveTo(px, a.bottom);
        ctx.lineTo(px, a.bottom + (maj ? c.tick[3] : c.tick[2]));
      }
      yTicks(ctx, yl, a.left, -1, c.yl.step, c.yl.major);
      yTicks(ctx, yr, a.right, 1, c.yr.step, c.yr.major);
      ctx.stroke();

      // axis titles, both read bottom to top
      const midY = (a.top + a.bottom) / 2;
      ctx.font = 'bold 34px "DejaVu Sans", sans-serif';
      ctx.textAlign = 'center';
      ctx.textBaseline = 'middle';
      [[30, c.yl], [1879, c.yr]].forEach(([tx, ax]) => {
        ctx.save();
        ctx.translate(tx, midY);
        ctx.rotate(-Math.PI / 2);
        ctx.fillStyle = ax.color;
        ctx.fillText(ax.title, 0, 0);
        ctx.restore();
      });

      if (c.title) {
        ctx.fillStyle = '#000';
        ctx.font = 'bold 36px "DejaVu Sans", sans-serif';
        ctx.textBaseline = 'alphabetic';
        ctx.fillText(c.title, c.titleX, a.top - c.titleDy);
      }
      if (c.date) {
        ctx.fillStyle = '#000';
        ctx.font = 'bold 22px ' + TICKFONT;
        ctx.textAlign = 'left';
        ctx.textBaseline = 'middle';
        ctx.fillText(c.date, 0, a.bottom + c.dateDy);
      }

      // shaded interval over everything, then the marker line
      const x0 = xs.getPixelForValue(c.band[0]), x1 = xs.getPixelForValue(c.band[1]);
      ctx.fillStyle = 'rgba(255,255,0,0.2)';
      ctx.fillRect(x0, a.top - c.gap, x1 - x0, a.bottom - a.top + c.gap);
      const xm = xs.getPixelForValue(c.mark);
      ctx.strokeStyle = 'rgb(235,16,24)';
      ctx.lineWidth = 4;
      ctx.beginPath();
      ctx.moveTo(xm, a.top - c.gap);
      ctx.lineTo(xm, a.bottom);
      ctx.stroke();
      ctx.restore();
    }
  };
}

function yScale(pos, ax, width) {
  return {
    position: pos, min: ax.min, max: ax.max,
    afterBuildTicks: s => { s.ticks = ax.major.map(v => ({value: v})); },
    afterFit: s => { s.width = width; },
    grid: {display: false, drawTicks: false},
    border: {display: false},
    ticks: {color: ax.tickColor, padding: 21, font: {family: TICKFONT, size: 22}, callback: v => String(v)}
  };
}

function makePanel(id, c) {
  const el = document.getElementById(id);
  const padTop = c.upper ? 60 : 40, padBot = c.upper ? 30 : 0, xH = c.upper ? 0 : 70;
  el.width = 1900;
  el.height = (c.y1 - c.y0) + padTop + padBot + xH;
  el.style.top = (c.y0 - padTop) + 'px';
  const x = {
    type: 'linear', min: 0, max: 24, display: !c.upper,
    afterBuildTicks: s => { s.ticks = c.majors.map(v => ({value: v})); },
    afterFit: s => { s.height = xH; },
    grid: {display: false, drawTicks: false},
    border: {display: false},
    ticks: {
      autoSkip: false, maxRotation: 0, color: '#000', padding: c.labelPad || 0,
      font: {family: TICKFONT, size: 32, weight: 'bold'},
      callback: (v, i) => c.labels[i]
    }
  };
  return new Chart(el, {
    type: 'line',
    data: {
      datasets: c.series.map(s => ({
        data: pts(s.data), yAxisID: s.axis, borderColor: s.color, borderWidth: s.width,
        pointRadius: 0, tension: 0, spanGaps: false, fill: false
      }))
    },
    options: {
      responsive: false, animation: false, events: [],
      layout: {padding: {top: padTop, bottom: padBot, left: 0, right: 0}},
      plugins: {legend: {display: false}, tooltip: {enabled: false}, title: {display: false}},
      scales: {x, yl: yScale('left', c.yl, c.left), yr: yScale('right', c.yr, 1900 - c.right)}
    },
    plugins: [framePlugin(c)]
  });
}

const topTicks = [10, 14, 11, 18], botTicks = [11, 18, 10, 18];
const axN = (min, max) => ({min, max, major: [5, 10, 15, 20], step: 1, color: BLUE, tickColor: BLUE, title: 'N (cm\u207B\u00B3)'});

// MHTs 1
makePanel('p1a', {
  upper: true, y0: 56, y1: 242, left: 132, right: 1780, gap: 0, tick: topTicks,
  majors: p1Major, labels: p1Labels, band: p1Band, mark: p1Mark,
  title: 'MHTs 1', titleX: 970, titleDy: 23,
  yl: axN(2.1, 21.0),
  yr: {min: 1.13, max: 12.0, major: [2, 4, 6, 8, 10, 12], step: 0.5, color: BLACK, tickColor: BLACK, title: 'B (nT)'},
  series: [{data: p1B, axis: 'yr', color: BLACK, width: 3}, {data: p1N, axis: 'yl', color: BLUE, width: 3.6}]
});
makePanel('p1b', {
  upper: false, y0: 274, y1: 461, left: 132, right: 1780, gap: 32, tick: botTicks,
  majors: p1Major, labels: p1Labels, band: p1Band, mark: p1Mark, labelPad: 30,
  date: '07 Feb 2016', dateDy: 45,
  yl: {min: 375.3, max: 456.6, major: [380, 400, 420, 440], step: 5, color: RED, tickColor: RED, title: 'V (km/s)'},
  yr: {min: 2.15, max: 20.07, major: [5, 10, 15, 20], step: 1, color: BLACK, tickColor: BLACK, title: 'T (eV)'},
  series: [{data: p1T, axis: 'yr', color: BLACK, width: 3.2}, {data: p1V, axis: 'yl', color: RED, width: 3.6}]
});

// MHTs 2
makePanel('p2a', {
  upper: true, y0: 641, y1: 828, left: 132, right: 1797, gap: 0, tick: topTicks,
  majors: p2Major, labels: p2Labels, band: p2Band, mark: p2Mark,
  title: 'MHTs 2', titleX: 878, titleDy: 25,
  yl: axN(5, 21.0),
  yr: {min: 0, max: 8, major: [0, 2, 4, 6, 8], step: 0.5, color: BLACK, tickColor: BLACK, title: 'B (nT)'},
  series: [{data: p2B, axis: 'yr', color: BLACK, width: 3}, {data: p2N, axis: 'yl', color: BLUE, width: 3.6}]
});
makePanel('p2b', {
  upper: false, y0: 859, y1: 1046, left: 132, right: 1797, gap: 31, tick: botTicks,
  majors: p2Major, labels: p2Labels, band: p2Band, mark: p2Mark, labelPad: 23,
  date: '19 Nov 2016', dateDy: 44,
  yl: {min: 307.1, max: 367.3, major: [320, 340, 360], step: 5, color: RED, tickColor: RED, title: 'V (km/s)'},
  yr: {min: 1, max: 5.03, major: [1, 2, 3, 4, 5], step: 0.2, color: BLACK, tickColor: BLACK, title: 'T (eV)'},
  series: [{data: p2T, axis: 'yr', color: BLACK, width: 3.2}, {data: p2V, axis: 'yl', color: RED, width: 3.6}]
});

// MHTs 3
makePanel('p3a', {
  upper: true, y0: 1224, y1: 1411, left: 141, right: 1780, gap: 0, tick: topTicks,
  majors: p3Major, labels: p3Labels, band: p3Band, mark: p3Mark,
  title: 'MHTs 3', titleX: 960, titleDy: 28,
  yl: axN(3.14, 23.03),
  yr: {min: 1.0, max: 13.0, major: [2, 4, 6, 8, 10, 12], step: 0.5, color: BLACK, tickColor: BLACK, title: 'B (nT)'},
  series: [{data: p3B, axis: 'yr', color: BLACK, width: 3}, {data: p3N, axis: 'yl', color: BLUE, width: 3.6}]
});
makePanel('p3b', {
  upper: false, y0: 1443, y1: 1629, left: 141, right: 1780, gap: 32, tick: botTicks,
  majors: p3Major, labels: p3Labels, band: p3Band, mark: p3Mark, labelPad: 17,
  date: '02 Jan 2017', dateDy: 40,
  yl: {min: 360, max: 546.7, major: [400, 450, 500], step: 10, color: RED, tickColor: RED, title: 'V (km/s)'},
  yr: {min: 2.15, max: 22.03, major: [5, 10, 15, 20], step: 1, color: BLACK, tickColor: BLACK, title: 'T (eV)'},
  series: [{data: p3T, axis: 'yr', color: BLACK, width: 3.2}, {data: p3V, axis: 'yl', color: RED, width: 3.6}]
});
</script>
</body>
</html>
